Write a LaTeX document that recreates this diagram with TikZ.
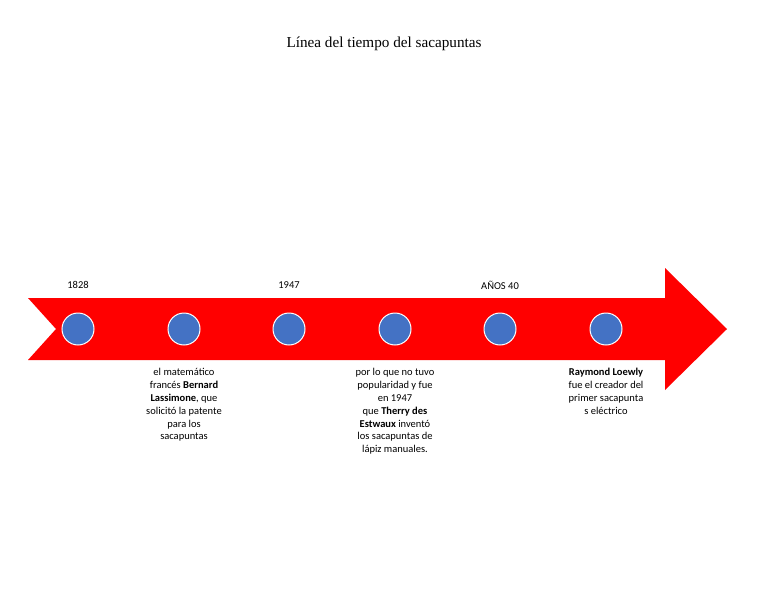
\documentclass[tikz,border=0pt]{standalone}
\usepackage{fontspec}
\setmainfont{Carlito}
\newfontfamily\titlefont{Liberation Serif}
\begin{document}
\begin{tikzpicture}[x=1pt,y=-1pt,
  dot/.style={circle,minimum size=32pt,inner sep=0pt,fill={rgb,255:red,68;green,114;blue,196},draw=white,line width=1pt},
  yr/.style={font=\fontsize{10.5}{12}\selectfont},
  desc/.style={font=\fontsize{10.5}{12.8}\selectfont,align=center,anchor=north}]
\useasboundingbox (0,0) rectangle (768,594);
\node[font=\titlefont\fontsize{15.2}{17}\selectfont] (title) at (384,44) {Línea del tiempo del sacapuntas};
\fill[red] (28,298) -- (665,298) -- (665,268) -- (727,329) -- (665,390) -- (665,360) -- (28,360) -- (56,329) -- cycle;
\foreach \i/\x in {1/78,2/184,3/289,4/395,5/500,6/606} \node[dot] (c\i) at (\x,329) {};
\node[yr] (y1) at (78,285) {1828};
\node[yr] (y2) at (289,285) {1947};
\node[yr] (y3) at (500,285) {AÑOS 40};
\node[desc] (d1) at (184,365) {el matemático\\francés \textbf{Bernard}\\\textbf{Lassimone}, que\\solicitó la patente\\para los\\sacapuntas};
\node[desc] (d2) at (395,365) {por lo que no tuvo\\popularidad y fue\\en 1947\\que \textbf{Therry des}\\\textbf{Estwaux} inventó\\los sacapuntas de\\lápiz manuales.};
\node[desc] (d3) at (606,365) {\textbf{Raymond Loewly}\\fue el creador del\\primer sacapunta\\s eléctrico};
\end{tikzpicture}
\end{document}
